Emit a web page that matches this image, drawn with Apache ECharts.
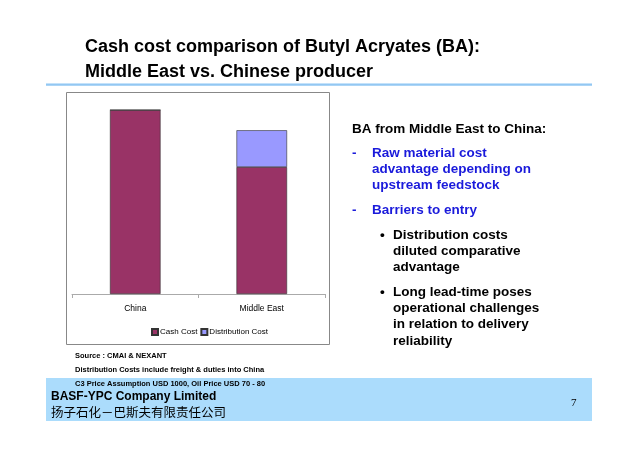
<!DOCTYPE html>
<html>
<head>
<meta charset="utf-8">
<script src="https://cdn.jsdelivr.net/npm/echarts@6/dist/echarts.min.js"></script>
<style>
  html, body { margin: 0; padding: 0; background: #fff; }
  #main { width: 638px; height: 451px; }
</style>
</head>
<body>
<div id="main"></div>
<script>
// data
var categories = ['China', 'Middle East'];
var cashCost = [100, 69];
var distributionCost = [0, 20];
var seriesNames = ['Cash Cost', 'Distribution Cost'];

var titleLines = ['Cash cost comparison of Butyl Acryates (BA):', 'Middle East vs. Chinese producer'];
var notes = ['Source : CMAI & NEXANT', 'Distribution Costs include freight & duties into China', 'C3 Price Assumption USD 1000, Oil Price USD 70 - 80'];

var myChart = echarts.init(document.getElementById('main'));

var bold13 = 'bold 13.5px "Liberation Sans", Arial, sans-serif';
var noteFont = 'bold 7.5px "Liberation Sans", Arial, sans-serif';
function txt(x, y, s, font, color) {
  return { type: 'text', left: x, top: y, z: 10, style: { text: s, font: font, fill: color || '#000', lineHeight: 16.3 } };
}

var graphics = [
  // chart frame
  { type: 'rect', shape: { x: 66.5, y: 92.5, width: 263, height: 252 }, style: { fill: '#fff', stroke: '#888', lineWidth: 1 }, z: -10 },
  // title underline
  { type: 'rect', shape: { x: 46, y: 83, width: 546, height: 3 }, style: { fill: '#c4e2fa' }, z: 1 },
  { type: 'rect', shape: { x: 46, y: 84, width: 546, height: 1.4 }, style: { fill: '#93c7f2' }, z: 2 },
  // footer band
  { type: 'rect', shape: { x: 46, y: 378, width: 546, height: 43 }, style: { fill: '#abdcfc' }, z: -20 },
  txt(85, 38, titleLines[0], 'bold 18px "Liberation Sans", Arial, sans-serif'),
  txt(85, 63, titleLines[1], 'bold 18px "Liberation Sans", Arial, sans-serif'),
  txt(352, 121, 'BA from Middle East to China:', bold13),
  txt(352, 145, '-', bold13, '#1a1adb'),
  txt(372, 145, 'Raw material cost\nadvantage depending on\nupstream feedstock', bold13, '#1a1adb'),
  txt(352, 202, '-', bold13, '#1a1adb'),
  txt(372, 202, 'Barriers to entry', bold13, '#1a1adb'),
  txt(380, 227, '•', bold13),
  txt(393, 227, 'Distribution costs\ndiluted comparative\nadvantage', bold13),
  txt(380, 284, '•', bold13),
  txt(393, 284, 'Long lead-time poses\noperational challenges\nin relation to delivery\nreliability', bold13),
  txt(75, 348, notes[0], noteFont),
  txt(75, 362, notes[1], noteFont),
  txt(75, 376, notes[2], noteFont),
  txt(51, 389, 'BASF-YPC Company Limited', 'bold 12px "Liberation Sans", Arial, sans-serif'),
  txt(51, 404, '扬子石化－巴斯夫有限责任公司', '12.5px "Noto Sans CJK SC", sans-serif'),
  txt(571, 395, '7', '11px "Liberation Serif", serif')
];

var option = {
  animation: false,
  color: ['#993366', '#9999ff'],
  grid: { left: 72, right: 313, top: 110, bottom: 157 },
  legend: {
    data: seriesNames,
    left: 147, top: 326,
    itemWidth: 6, itemHeight: 6, itemGap: 3,
    icon: 'rect',
    textStyle: { fontSize: 8, color: '#000', fontFamily: '"Liberation Sans", Arial, sans-serif', padding: [0, 0, 0, -3] },
    padding: [2, 4]
  },
  xAxis: {
    type: 'category',
    data: categories,
    axisLine: { lineStyle: { color: '#aaa', width: 1 } },
    axisTick: { show: true, length: 4, lineStyle: { color: '#aaa' } },
    axisLabel: { color: '#000', fontSize: 8.5, margin: 10, fontFamily: '"Liberation Sans", Arial, sans-serif' }
  },
  yAxis: { type: 'value', min: 0, max: 100, show: false, splitLine: { show: false } },
  series: [
    { name: seriesNames[0], type: 'bar', stack: 'c', data: cashCost, barWidth: '40%',
      itemStyle: { borderColor: '#333', borderWidth: 0.6 } },
    { name: seriesNames[1], type: 'bar', stack: 'c', data: distributionCost, barWidth: '40%',
      itemStyle: { borderColor: '#333', borderWidth: 0.6 } }
  ],
  graphic: graphics
};

myChart.setOption(option);
</script>
</body>
</html>
